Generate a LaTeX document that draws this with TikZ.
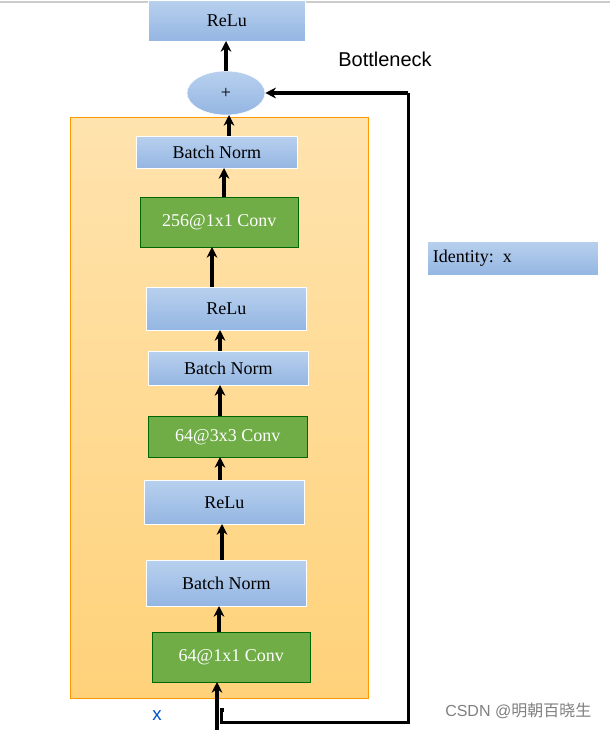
\documentclass[tikz,border=0pt]{standalone}
\usepackage{fontspec}
\setmainfont{Liberation Serif}
\newfontfamily\sansf{Liberation Sans}
\newfontfamily\cjk{Noto Sans CJK SC}
\usetikzlibrary{arrows.meta,shapes.geometric}
\definecolor{bxt}{HTML}{B8D0EE}
\definecolor{bxb}{HTML}{94B6E2}
\definecolor{gr}{HTML}{70AD47}
\definecolor{ot}{HTML}{FFE3AE}
\definecolor{ob}{HTML}{FFD27A}
\begin{document}
\begin{tikzpicture}[x=0.75pt,y=-0.75pt,
  bbox/.style={draw=white,top color=bxt,bottom color=bxb,font=\fontsize{13.5}{15}\selectfont,inner sep=0pt},
  grn/.style={draw=green!40!black,fill=gr,text=white,font=\fontsize{13.5}{15}\selectfont,inner sep=0pt},
  ar/.style={line width=3pt,-{Stealth[length=8pt,width=8pt]}}]
\useasboundingbox (0,0) rectangle (610,730);
\fill[white] (0,0) rectangle (610,730);
\draw[gray!40,line width=1pt] (0,2) -- (610,2);
\node[draw=orange!80!yellow,top color=ot,bottom color=ob,minimum width=298*0.75pt,minimum height=581*0.75pt,anchor=north west,inner sep=0pt] (blk) at (70,117) {};
\node[bbox,minimum width=157*0.75pt,minimum height=41*0.75pt,anchor=north west] (r0) at (148,0) {ReLu};
\node[ellipse,draw=white,top color=bxt,bottom color=bxb,minimum width=78*0.75pt,minimum height=44*0.75pt,font=\fontsize{13.5}{15}\selectfont] (plus) at (226,93) {+};
\node[font=\sansf\fontsize{15}{17}\selectfont] (bt) at (385,59) {Bottleneck};
\node[bbox,minimum width=161*0.75pt,minimum height=32*0.75pt,anchor=north west] (b1) at (136,136) {Batch Norm};
\node[grn,minimum width=158*0.75pt,minimum height=50*0.75pt,anchor=north west] (c1) at (140,197) {256@1x1 Conv};
\node[bbox,minimum width=160*0.75pt,minimum height=43*0.75pt,anchor=north west] (r1) at (146,287) {ReLu};
\node[bbox,minimum width=160*0.75pt,minimum height=34*0.75pt,anchor=north west] (b2) at (148,351) {Batch Norm};
\node[grn,minimum width=159*0.75pt,minimum height=41*0.75pt,anchor=north west] (c2) at (148,416) {64@3x3 Conv};
\node[bbox,minimum width=160*0.75pt,minimum height=44*0.75pt,anchor=north west] (r2) at (144,480) {ReLu};
\node[bbox,minimum width=160*0.75pt,minimum height=46*0.75pt,anchor=north west] (b3) at (146,560) {Batch Norm};
\node[grn,minimum width=158*0.75pt,minimum height=50*0.75pt,anchor=north west] (c3) at (152,632) {64@1x1 Conv};
\node[bbox,minimum width=171*0.75pt,minimum height=34*0.75pt,anchor=north west,align=left,text width=160*0.75pt] (id) at (427,241) {Identity: x};
\node[text=blue!60!cyan!80!black,font=\sansf\fontsize{14}{16}\selectfont] (xl) at (157,716) {x};
\node[text=gray,font=\fontsize{12}{14}\selectfont,anchor=east] (wm) at (596,711) {\sansf CSDN @\cjk 明朝百晓生};
\coordinate (in) at (217,730);
\coordinate (s1) at (222,722);
\coordinate (s2) at (408,722);
\coordinate (s3) at (408,93);
\draw[ar] (in) -- (217,682);
\draw[ar] (219,632) -- (219,606);
\draw[ar] (222,560) -- (222,524);
\draw[ar] (220,480) -- (220,457);
\draw[ar] (220,416) -- (220,385);
\draw[ar] (220,351) -- (220,330);
\draw[ar] (212,287) -- (212,247);
\draw[ar] (224,197) -- (224,168);
\draw[ar] (229,136) -- (229,115);
\draw[ar] (226,71) -- (226,41);
\draw[line width=3pt] (222,708) -- (s1) -- (s2) -- (s3);
\draw[line width=0.8pt,white] (224,712) -- (224,720) -- (406,720) -- (406,95);
\draw[ar] (s3) -- (plus.east);
\end{tikzpicture}
\end{document}
